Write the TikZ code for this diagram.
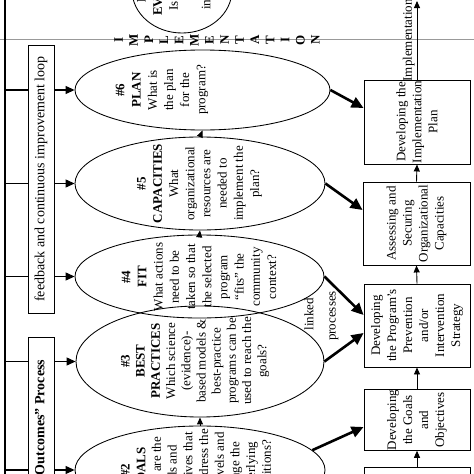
\documentclass[tikz,border=0pt]{standalone}
\usepackage{fontspec}
\setmainfont{Liberation Serif}
\usetikzlibrary{arrows.meta,shapes.geometric}
\begin{document}
\begin{tikzpicture}[x=1pt,y=1pt,
  ell/.style={draw, ellipse, inner sep=0pt, line width=0.85pt},
  etext/.style={rotate=90, align=center, inner sep=0pt, font=\fontsize{13}{16.2}\selectfont},
  boxr/.style={draw, rectangle, fill=white, line width=0.9pt, inner sep=0pt, rotate=90, align=center, font=\fontsize{13}{16}\selectfont},
  sidebox/.style={draw, rectangle, fill=white, line width=1pt, inner sep=0pt, rotate=90, minimum height=26pt, font=\fontsize{14}{16}\selectfont},
  uparrow/.style={-{Triangle[length=7pt,width=6pt]}, line width=0.9pt},
  feedarrow/.style={-{Triangle[length=9pt,width=8pt]}, line width=1.1pt},
  thickarrow/.style={-{Triangle[length=12pt,width=11pt]}, line width=2.6pt},
  lbl/.style={rotate=90, inner sep=0pt, font=\fontsize{13}{16}\selectfont},
]
\useasboundingbox (0,0) rectangle (474,-474);
\clip (0,0) rectangle (474,-474);

% guide lines
\coordinate (gl) at (0,-39);
\coordinate (gr) at (474,-39);
\draw[gray!80, line width=0.6pt] (gl) -- (gr);
\coordinate (bt) at (5,0);
\coordinate (bb) at (5,-474);
\draw[line width=1.2pt] (bt) -- (bb);

% ellipses
\node[ell, minimum width=100pt, minimum height=86pt] (e7) at (182,10) {};
\node[ell, minimum width=255pt, minimum height=80pt] (e6) at (202.5,-90) {};
\node[ell, minimum width=250pt, minimum height=93pt] (e5) at (200,-183.5) {};
\node[ell, minimum width=249pt, minimum height=83pt] (e4) at (199.5,-276.5) {};
\node[ell, minimum width=248pt, minimum height=111pt] (e3) at (200,-361.5) {};
\node[ell, minimum width=250pt, minimum height=88pt] (e2) at (200,-470) {};

% ellipse texts
\node[etext] (t7) at (167,27) {\textbf{\#7}\\\textbf{PROCESS}\\\textbf{EVALUATION}\\Is the program\\being\\implemented?};
\node[etext] (t6) at (162,-90) {\textbf{\#6}\\\textbf{PLAN}\\What is\\the plan\\for the\\program?};
\node[etext] (t5) at (199.5,-183.5) {\textbf{\#5}\\\textbf{CAPACITIES}\\What\\organizational\\resources are\\needed to\\implement the\\plan?};
\node[etext] (t4) at (199,-277) {\textbf{\#4}\\\textbf{FIT}\\What actions\\need to be\\taken so that\\the selected\\program\\``fits'' the\\community\\context?};
\node[etext, font=\fontsize{13}{15.2}\selectfont] (t3) at (195,-361) {\textbf{\#3}\\\textbf{BEST}\\\textbf{PRACTICES}\\Which science\\(evidence)-\\based models \&\\best-practice\\programs can be\\used to reach the\\goals?};
\node[etext, font=\fontsize{13}{15.7}\selectfont] (t2) at (196,-470) {\textbf{\#2}\\\textbf{GOALS}\\What are the\\goals and\\objectives that\\will address the\\risk levels and\\change the\\underlying\\conditions?};

% IMPLEMENTATION column
\node[rotate=90, align=center, inner sep=0pt, font=\fontsize{13}{15.15}\selectfont\bfseries] (impl) at (217,-40) {I\\M\\P\\L\\E\\M\\E\\N\\T\\A\\T\\I\\O\\N};

% feedback connectors
\draw[feedarrow] (e6.west -| bt) -- (e6.west);
\draw[feedarrow] (e5.west -| bt) -- (e5.west);
\draw[feedarrow] (e4.west -| bt) -- (e4.west);
\draw[feedarrow] (e3.west -| bt) -- (e3.west);
\draw[feedarrow] (e2.west -| bt) -- (e2.west);

% side boxes
\node[sidebox, minimum width=268pt] (fb) at (41,-179) {feedback and continuous improvement loop};
\node[sidebox, minimum width=235pt, font=\fontsize{14}{16}\selectfont\bfseries] (gto) at (41,-454.5) {``Getting To Outcomes'' Process};

% up arrows between ellipses
\draw[uparrow] (e2.north) -- (e3.south);
\draw[uparrow] (e4.north) -- (e5.south);
\draw[uparrow] (e5.north) -- (e6.south);

% right boxes
\node[boxr, minimum width=84pt, minimum height=106pt] (b1) at (417,-122) {Developing the\\Implementation\\Plan};
\node[boxr, minimum width=83pt, minimum height=107pt] (b2) at (416.5,-223.5) {Assessing and\\Securing\\Organizational\\Capacities};
\node[boxr, minimum width=83pt, minimum height=106pt] (b3) at (417,-325.5) {Developing\\the Program's\\Prevention\\and/or\\Intervention\\Strategy};
\node[boxr, minimum width=60pt, minimum height=106pt] (b4) at (417,-420) {Developing\\the Goals\\and\\Objectives};
\node[boxr, minimum width=86pt, minimum height=106pt] (b0) at (417,-510) {};

% box chain
\draw[uparrow] (b0.east) -- (b4.west);
\draw[uparrow] (b4.east) -- (b3.west);
\draw[uparrow] (b3.east) -- (b2.west);
\draw[uparrow] (b2.east) -- (b1.west);
\coordinate (top) at (417,-1);
\draw[uparrow] (b1.east) -- (top) node[midway, sloped, above=2pt, inner sep=0pt, font=\fontsize{13}{16}\selectfont] {Implementation};

% thick arrows
\draw[thickarrow] (e6.east) -- ([yshift=14pt]b1.north);
\draw[thickarrow] (e5.east) -- ([yshift=13.5pt]b2.north);
\draw[thickarrow] (e4.east) -- ([yshift=10.5pt]b3.north);
\draw[thickarrow] (e3.east) -- ([yshift=-7.5pt]b3.north);
\draw[thickarrow] (e2.10) -- ([yshift=-7pt]b4.north);

% linked processes
\node[lbl] (lk) at (309,-314) {linked};
\node[lbl] (pr) at (334,-316) {processes};
\end{tikzpicture}
\end{document}
